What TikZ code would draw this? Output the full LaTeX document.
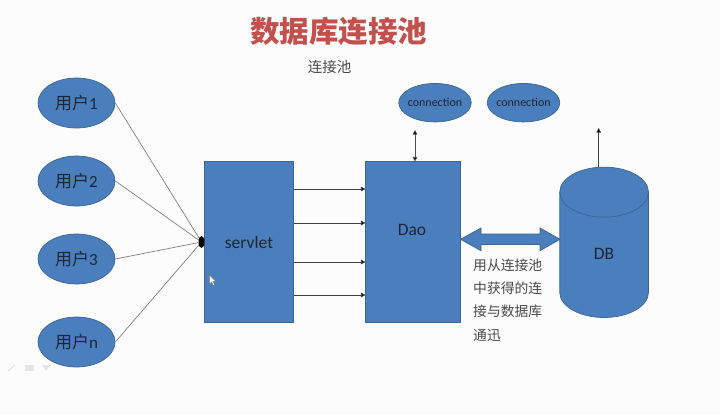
\documentclass[tikz,border=0pt]{standalone}
\usepackage{fontspec}
\setmainfont{Carlito}
\newfontfamily\cjk{Noto Sans CJK SC}
\usetikzlibrary{arrows.meta,shapes.geometric}
\definecolor{boxblue}{HTML}{4A7EBC}
\definecolor{boxedge}{HTML}{3A6594}
\definecolor{inktext}{HTML}{1C2733}
\definecolor{titlered}{HTML}{C2504C}
\definecolor{captext}{HTML}{4A4A4A}
\tikzset{
  x=1pt,y=-1pt,
  usernode/.style={ellipse,draw=boxedge,fill=boxblue,line width=0.7pt,minimum width=77pt,minimum height=50pt,inner sep=0pt,text=inktext,font=\fontsize{17}{18}\selectfont},
  connnode/.style={ellipse,draw=boxedge,fill=boxblue,line width=0.7pt,minimum width=72.5pt,minimum height=38.5pt,inner xsep=-8pt,inner ysep=0pt,text=inktext,font=\fontsize{12}{14}\selectfont},
  blockbox/.style={rectangle,draw=boxedge,fill=boxblue,line width=0.6pt,inner sep=0pt,text=inktext},
  fanline/.style={draw=black!50,line width=0.7pt},
  flowline/.style={draw=black!75,line width=0.6pt,-{Triangle[length=4.5pt,width=4.5pt,fill=black]}},
  bothline/.style={draw=black!70,line width=0.7pt,{Triangle[length=4.5pt,width=4.5pt,fill=black]}-{Triangle[length=4.5pt,width=4.5pt,fill=black]}},
  caption/.style={text=captext,inner sep=0pt,font=\cjk\fontsize{13.8}{14}\selectfont},
}
\begin{document}
\begin{tikzpicture}
\useasboundingbox (0,0) rectangle (720,415);
\fill[white!99!black] (0,0) rectangle (720,415);

% title
\node[text=titlered,inner sep=0pt,font=\cjk\bfseries\fontsize{29.5}{32}\selectfont] (title) at (338.5,31) {数据库连接池};
\node[text=captext,inner sep=0pt,font=\cjk\fontsize{14.5}{16}\selectfont] (pool) at (329.5,67) {连接池};

% users
\node[usernode] (u1) at (76.5,103) {{\cjk 用户}1};
\node[usernode] (u2) at (76.5,181) {{\cjk 用户}2};
\node[usernode] (u3) at (76.5,259) {{\cjk 用户}3};
\node[usernode] (un) at (76.5,342) {{\cjk 用户}n};

% main blocks
\node[blockbox,minimum width=89.5pt,minimum height=160.5pt,font=\fontsize{17.5}{19}\selectfont] (servlet) at (249,242) {servlet};
\node[blockbox,minimum width=94.5pt,minimum height=160.5pt] (dao) at (413,242) {};
\node[text=inktext,inner sep=0pt,font=\fontsize{17.5}{19}\selectfont] (daotext) at (412,230) {Dao};

% connections
\node[connnode] (c1) at (435,102.7) {connection};
\node[connnode] (c2) at (523.5,102.7) {connection};
\coordinate (c1end) at (415,130);
\coordinate (dbend) at (598.7,128);

% database: invisible frame node gives the anchors
\node[rectangle,minimum width=88.7pt,minimum height=150.4pt,inner sep=0pt] (db) at (604.3,242.5) {};
\path[fill=boxblue,draw=boxedge,line width=0.7pt]
  (db.north west) ++(0,25) arc[start angle=180,end angle=0,x radius=44.35pt,y radius=25pt]
  -- ++(0,100.4) arc[start angle=0,end angle=-180,x radius=44.35pt,y radius=25pt] -- cycle;
\draw[boxedge,line width=0.7pt] (db.north west) ++(0,25) arc[start angle=180,end angle=360,x radius=44.35pt,y radius=25pt];
\node[text=inktext,inner sep=0pt,font=\fontsize{17.5}{19}\selectfont] (dbtext) at (604,254) {DB};

% fan-in
\node[ellipse,fill=black,inner sep=0pt,minimum width=6pt,minimum height=12pt] (hub) at (201.5,242) {};
\draw[fanline] (u1.east) -- (hub);
\draw[fanline] (u2.east) -- (hub);
\draw[fanline] (u3.east) -- (hub);
\draw[fanline] (un.east) -- (hub);

% servlet to dao
\draw[flowline] ([yshift=53pt]servlet.east) -- ([yshift=53pt]dao.west);
\draw[flowline] ([yshift=19pt]servlet.east) -- ([yshift=19pt]dao.west);
\draw[flowline] ([yshift=-20pt]servlet.east) -- ([yshift=-20pt]dao.west);
\draw[flowline] ([yshift=-53pt]servlet.east) -- ([yshift=-53pt]dao.west);

% vertical arrows
\draw[bothline] (c1end) -- (c1end |- dao.north);
\draw[flowline] (db.north -| dbend) -- (dbend);

% wide double arrow
\path[fill=boxblue,draw=boxedge,line width=0.7pt]
  (460.5,239.3) -- (481,228) -- (481,234) -- (540,234) -- (540,228) -- (560,239.3)
  -- (540,250.7) -- (540,244.5) -- (481,244.5) -- (481,250.7) -- cycle;

% caption
\node[caption,anchor=west] (cap1) at (473,265) {用从连接池};
\node[caption,anchor=west] (cap2) at (473,288) {中获得的连};
\node[caption,anchor=west] (cap3) at (473,311.5) {接与数据库};
\node[caption,anchor=west] (cap4) at (473,335) {通迅};

% mouse pointer
\path[fill=white,draw=black!55,line width=0.4pt] (209.5,275) -- (209.5,284) -- (211.6,282) -- (213.2,285.5) -- (214.6,284.8) -- (213,281.4) -- (215.6,281.2) -- cycle;

% faint slide-show controls
\draw[black!10,line width=1pt] (8,371) -- (15,365);
\fill[black!10] (25,365) rectangle (34,371);
\fill[black!10] (42,365) -- (50,365) -- (46,371) -- cycle;
\end{tikzpicture}
\end{document}
